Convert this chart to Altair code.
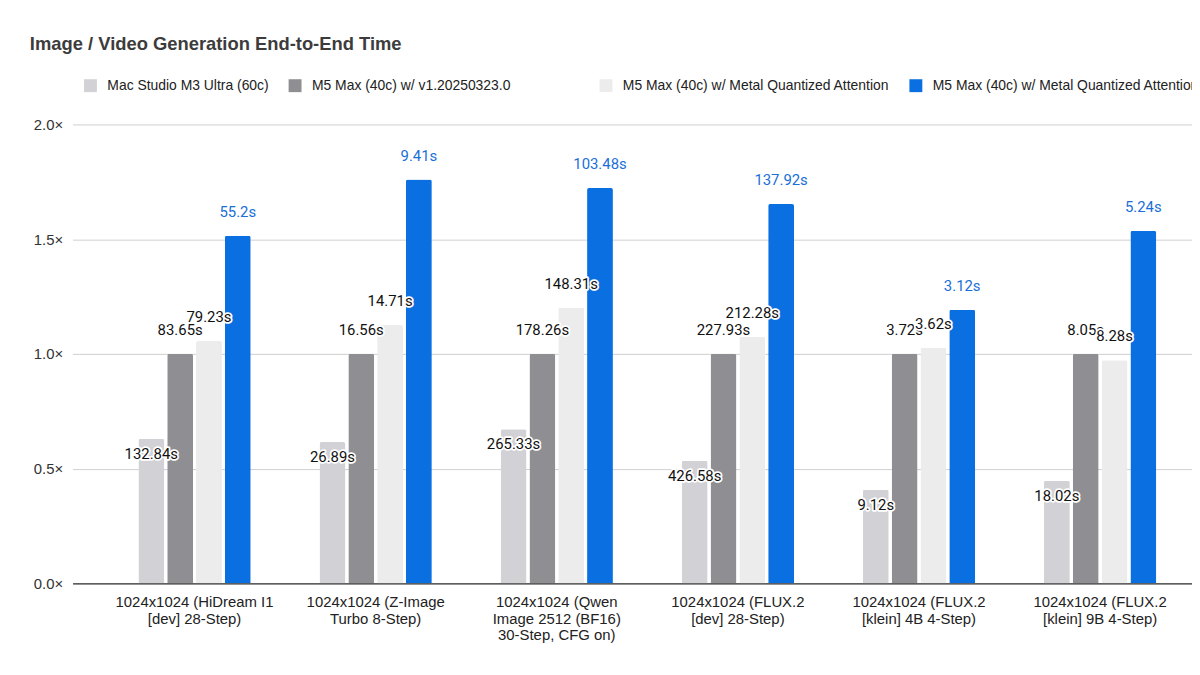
import altair as alt
import pandas as pd

categories = [
    "1024x1024 (HiDream I1\n[dev] 28-Step)",
    "1024x1024 (Z-Image\nTurbo 8-Step)",
    "1024x1024 (Qwen\nImage 2512 (BF16)\n30-Step, CFG on)",
    "1024x1024 (FLUX.2\n[dev] 28-Step)",
    "1024x1024 (FLUX.2\n[klein] 4B 4-Step)",
    "1024x1024 (FLUX.2\n[klein] 9B 4-Step)",
]
series = [
    "Mac Studio M3 Ultra (60c)",
    "M5 Max (40c) w/ v1.20250323.0",
    "M5 Max (40c) w/ Metal Quantized Attention",
    "M5 Max (40c) w/ Metal Quantized Attention + Neural Accelerators",
]
colors = ["#d1d1d6", "#8e8e93", "#ececec", "#0a6fe0"]

# relative speed (x)
speed_m3_ultra = [0.630, 0.616, 0.672, 0.534, 0.408, 0.447]
speed_m5_v1 = [1.0, 1.0, 1.0, 1.0, 1.0, 1.0]
speed_m5_mqa = [1.056, 1.126, 1.202, 1.074, 1.028, 0.972]
speed_m5_mqa_na = [1.515, 1.760, 1.723, 1.653, 1.192, 1.536]

time_m3_ultra = ["132.84s", "26.89s", "265.33s", "426.58s", "9.12s", "18.02s"]
time_m5_v1 = ["83.65s", "16.56s", "178.26s", "227.93s", "3.72s", "8.05s"]
time_m5_mqa = ["79.23s", "14.71s", "148.31s", "212.28s", "3.62s", "8.28s"]
time_m5_mqa_na = ["55.2s", "9.41s", "103.48s", "137.92s", "3.12s", "5.24s"]

speeds = [speed_m3_ultra, speed_m5_v1, speed_m5_mqa, speed_m5_mqa_na]
times = [time_m3_ultra, time_m5_v1, time_m5_mqa, time_m5_mqa_na]

rows = []
for si, s in enumerate(series):
    for ci, c in enumerate(categories):
        rows.append({"group": c, "series": s, "sidx": si,
                     "speed": speeds[si][ci], "label": times[si][ci]})
df = pd.DataFrame(rows)

x_enc = alt.X(
    "group:N", sort=categories,
    scale=alt.Scale(paddingInner=0.38, paddingOuter=0.2805, align=0.648),
    axis=alt.Axis(title=None, labelAngle=0, labelExpr="split(datum.label, '\\n')",
                  labelFont="Liberation Sans", labelFontSize=15, labelColor="#222222",
                  labelLineHeight=17, labelPadding=11, ticks=False, grid=False,
                  domainColor="#333333", domainWidth=1.3, labelLimit=400),
)
xo_enc = alt.XOffset("series:N", sort=series, scale=alt.Scale(paddingInner=0.103, paddingOuter=0))
y_enc = alt.Y(
    "speed:Q", scale=alt.Scale(domain=[0, 2]),
    axis=alt.Axis(title=None, values=[0, 0.5, 1, 1.5, 2],
                  labelExpr="format(datum.value, '.1f') + '×'",
                  labelFont="Liberation Sans", labelFontSize=15, labelColor="#333333",
                  labelPadding=10, ticks=False, domain=False,
                  gridColor="#d0d0d0", gridWidth=1),
)

# the second legend entry has a wider slot in the reference legend (blank padding glyphs)
pad = "\u2800" * 7
legend_label_expr = ("indexof(datum.value, 'v1.2025') >= 0 ? datum.value + '" + pad +
                     "' : datum.value")

base = alt.Chart(df)

bars = base.mark_bar(cornerRadiusTopLeft=2, cornerRadiusTopRight=2).encode(
    x=x_enc, xOffset=xo_enc, y=y_enc,
    color=alt.Color("series:N", sort=series,
                    scale=alt.Scale(domain=series, range=colors),
                    legend=alt.Legend(title=None, orient="none", legendX=11, legendY=-46,
                                      direction="horizontal", symbolType="square",
                                      symbolSize=169, symbolStrokeWidth=0,
                                      labelFont="Liberation Sans", labelFontSize=14,
                                      labelColor="#222222", labelOffset=10,
                                      columnPadding=19, labelLimit=1000, padding=0,
                                      labelExpr=legend_label_expr)),
)

layers = [bars]
for si in range(4):
    sub = base.transform_filter(alt.datum.sidx == si)
    dy = 15 if si == 0 else -24
    enc = dict(x=alt.X("group:N", sort=categories), xOffset=alt.XOffset("series:N", sort=series),
               y="speed:Q", text="label:N")
    if si < 3:
        layers.append(sub.mark_text(font="Roboto", fontSize=15, baseline="middle", dy=dy,
                                    stroke="white", strokeWidth=3.5, strokeJoin="round",
                                    fill="white").encode(**enc))
        layers.append(sub.mark_text(font="Roboto", fontSize=15, baseline="middle", dy=dy,
                                    fill="#111111").encode(**enc))
    else:
        layers.append(sub.mark_text(font="Roboto", fontSize=15, baseline="middle", dy=dy,
                                    fill="#1a6fd8").encode(**enc))

chart = alt.layer(*layers).properties(
    width=1127, height=462,
    padding={"left": 65, "top": 115, "right": 0, "bottom": 78},
    autosize=alt.AutoSizeParams(type="none"),
    title=alt.Title("Image / Video Generation End-to-End Time", anchor="start", frame="group",
                    dx=-43, offset=10, baseline="alphabetic", font="Liberation Sans",
                    fontSize=18.5, fontWeight="bold", color="#3c3c3c"),
).configure_view(stroke=None)

chart.save("out.html", embed_options={"renderer": "svg", "actions": False})
